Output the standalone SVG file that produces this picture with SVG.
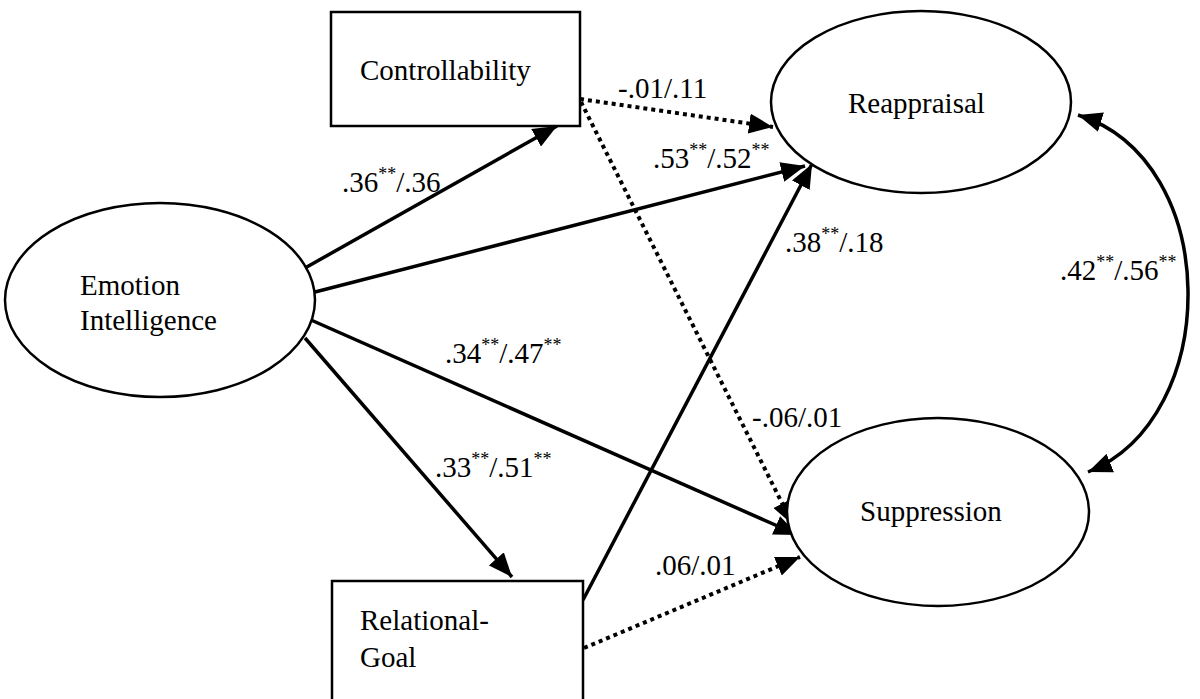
<svg xmlns="http://www.w3.org/2000/svg" width="1200" height="699" viewBox="0 0 1200 699">
<style>
.node{fill:#fff;stroke:#000;stroke-width:2.5}
.lbl{font-size:29px;fill:#000}
.sup{font-size:18px}
.solid{fill:none;stroke:#000;stroke-width:3.5;marker-end:url(#ah)}
.dot{fill:none;stroke:#000;stroke-width:4;stroke-dasharray:4 4;marker-end:url(#ah)}
</style>
<defs>
<marker id="ah" viewBox="0 0 24 20" markerUnits="userSpaceOnUse" markerWidth="24" markerHeight="20" refX="24" refY="10" orient="auto-start-reverse">
<path d="M0,0 L24,10 L0,20 z" fill="#000"/>
</marker>
</defs>
<rect width="1200" height="699" fill="#fff"/>
<g id="connectors">
<line class="solid" x1="305" y1="268" x2="557" y2="126"/>
<line class="solid" x1="315" y1="292" x2="805" y2="166"/>
<line class="dot" x1="580" y1="99" x2="773" y2="127"/>
<line class="dot" x1="581" y1="102" x2="793" y2="525"/>
<line class="solid" x1="311" y1="320" x2="798" y2="535"/>
<line class="solid" x1="305" y1="338" x2="512" y2="577"/>
<line class="solid" x1="583" y1="600" x2="812" y2="164"/>
<line class="dot" x1="584" y1="648" x2="800" y2="557"/>
<path class="solid" d="M1078,115 C1223,160 1223,418 1088,472" style="marker-start:url(#ah)"/>
</g>
<g font-family="Liberation Serif, Times New Roman, DejaVu Serif, serif">
<g id="controllability">
<rect class="node" x="331" y="12" width="249" height="114"/>
<text class="lbl" x="360" y="80">Controllability</text>
</g>
<g id="reappraisal">
<ellipse class="node" cx="921" cy="102" rx="150" ry="91"/>
<text class="lbl" x="848" y="113">Reappraisal</text>
</g>
<g id="emotion-intelligence">
<ellipse class="node" cx="160" cy="300" rx="155" ry="97"/>
<text class="lbl" x="80" y="295">Emotion</text>
<text class="lbl" x="80" y="330">Intelligence</text>
</g>
<g id="suppression">
<ellipse class="node" cx="938" cy="512" rx="151" ry="94"/>
<text class="lbl" x="860" y="521">Suppression</text>
</g>
<g id="relational-goal">
<rect class="node" x="332" y="581" width="251" height="125"/>
<text class="lbl" x="360" y="630">Relational-</text>
<text class="lbl" x="360" y="667">Goal</text>
</g>
<g id="edge-labels">
<text class="lbl" x="618" y="98">-.01/.11</text>
<text class="lbl" x="653" y="168">.53<tspan class="sup" dy="-12">**</tspan><tspan dy="12">/.52</tspan><tspan class="sup" dy="-12">**</tspan></text>
<text class="lbl" x="342" y="192">.36<tspan class="sup" dy="-12">**</tspan><tspan dy="12">/.36</tspan></text>
<text class="lbl" x="785" y="252">.38<tspan class="sup" dy="-12">**</tspan><tspan dy="12">/.18</tspan></text>
<text class="lbl" x="1060" y="280">.42<tspan class="sup" dy="-12">**</tspan><tspan dy="12">/.56</tspan><tspan class="sup" dy="-12">**</tspan></text>
<text class="lbl" x="445" y="363">.34<tspan class="sup" dy="-12">**</tspan><tspan dy="12">/.47</tspan><tspan class="sup" dy="-12">**</tspan></text>
<text class="lbl" x="435" y="477">.33<tspan class="sup" dy="-12">**</tspan><tspan dy="12">/.51</tspan><tspan class="sup" dy="-12">**</tspan></text>
<text class="lbl" x="752" y="427">-.06/.01</text>
<text class="lbl" x="655" y="575">.06/.01</text>
</g>
</g>
</svg>
